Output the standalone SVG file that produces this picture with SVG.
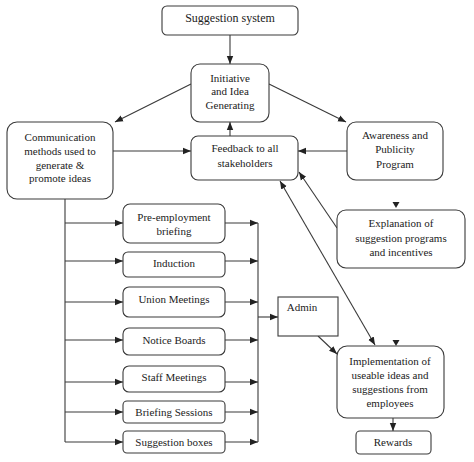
<svg xmlns="http://www.w3.org/2000/svg" width="474" height="462" viewBox="0 0 474 462">
<style>
.box{fill:#fff;stroke:#3a3a3a;stroke-width:1.1}
.ln{fill:none;stroke:#3a3a3a;stroke-width:1.1}
text{font-family:"Liberation Serif","Times New Roman",serif;font-size:11px;fill:#222;text-anchor:middle}
.t12{font-size:12px}
.ah{fill:#222}
</style>
<defs>
<marker id="arr" markerUnits="userSpaceOnUse" markerWidth="8" markerHeight="8" viewBox="0 0 8 8" refX="8" refY="4" orient="auto-start-reverse">
<path d="M0,0.8 L8,4 L0,7.2 z" fill="#222"/>
</marker>
</defs>
<rect width="474" height="462" fill="#fff"/>
<g id="connectors">
<line class="ln" x1="230" y1="35" x2="230" y2="64" marker-end="url(#arr)"/>
<line class="ln" x1="191" y1="84" x2="115" y2="122" marker-end="url(#arr)"/>
<line class="ln" x1="269" y1="84" x2="346" y2="122" marker-end="url(#arr)"/>
<line class="ln" x1="230" y1="136" x2="230" y2="122" marker-end="url(#arr)"/>
<line class="ln" x1="113" y1="151" x2="191" y2="151" marker-end="url(#arr)"/>
<line class="ln" x1="347" y1="151" x2="298" y2="151" marker-end="url(#arr)"/>
<line class="ln" x1="337" y1="228" x2="299" y2="172" marker-end="url(#arr)"/>
<line class="ln" x1="280" y1="181" x2="375" y2="345" marker-start="url(#arr)" marker-end="url(#arr)"/>
<polyline class="ln" points="65,199 65,442"/>
<line class="ln" x1="65" y1="223" x2="123" y2="223" marker-end="url(#arr)"/>
<line class="ln" x1="65" y1="261" x2="123" y2="261" marker-end="url(#arr)"/>
<line class="ln" x1="65" y1="302" x2="123" y2="302" marker-end="url(#arr)"/>
<line class="ln" x1="65" y1="340" x2="123" y2="340" marker-end="url(#arr)"/>
<line class="ln" x1="65" y1="382" x2="123" y2="382" marker-end="url(#arr)"/>
<line class="ln" x1="65" y1="412" x2="123" y2="412" marker-end="url(#arr)"/>
<line class="ln" x1="65" y1="442" x2="123" y2="442" marker-end="url(#arr)"/>
<line class="ln" x1="225" y1="223" x2="258" y2="223" marker-end="url(#arr)"/>
<line class="ln" x1="225" y1="261" x2="258" y2="261" marker-end="url(#arr)"/>
<line class="ln" x1="225" y1="302" x2="258" y2="302" marker-end="url(#arr)"/>
<line class="ln" x1="225" y1="340" x2="258" y2="340" marker-end="url(#arr)"/>
<line class="ln" x1="225" y1="382" x2="258" y2="382" marker-end="url(#arr)"/>
<line class="ln" x1="225" y1="412" x2="258" y2="412" marker-end="url(#arr)"/>
<line class="ln" x1="225" y1="442" x2="258" y2="442" marker-end="url(#arr)"/>
<polyline class="ln" points="258,223 258,442"/>
<line class="ln" x1="258" y1="317" x2="278" y2="317" marker-end="url(#arr)"/>
<line class="ln" x1="318" y1="336" x2="337" y2="354" marker-end="url(#arr)"/>
<line class="ln" x1="393" y1="418" x2="393" y2="431" marker-end="url(#arr)"/>
<polygon class="ah" points="392.5,202 399.5,202 396,208"/>
<polygon class="ah" points="392.5,340 399.5,340 396,346"/>
</g>
<g id="n-suggestion-system">
<rect class="box" x="162" y="6" width="136" height="29" rx="5"/>
<text class="t12" x="230" y="22">Suggestion system</text>
</g>
<g id="n-initiative">
<rect class="box" x="191" y="64" width="78" height="58" rx="9"/>
<text x="230" y="82">Initiative</text>
<text x="230" y="95">and Idea</text>
<text x="230" y="109">Generating</text>
</g>
<g id="n-communication">
<rect class="box" x="7" y="122" width="106" height="77" rx="10"/>
<text x="60" y="141">Communication</text>
<text x="60" y="154.5">methods used to</text>
<text x="60" y="168.5">generate &amp;</text>
<text x="60" y="182">promote ideas</text>
</g>
<g id="n-feedback">
<rect class="box" x="191" y="136" width="107" height="44" rx="7"/>
<text x="245" y="152">Feedback to all</text>
<text x="245" y="167">stakeholders</text>
</g>
<g id="n-awareness">
<rect class="box" x="347" y="122" width="96" height="58" rx="9"/>
<text x="395" y="139">Awareness and</text>
<text x="395" y="153">Publicity</text>
<text x="395" y="168">Program</text>
</g>
<g id="n-explanation">
<rect class="box" x="337" y="210" width="128" height="58" rx="9"/>
<text x="401" y="227">Explanation of</text>
<text x="401" y="242">suggestion programs</text>
<text x="401" y="256">and incentives</text>
</g>
<g id="n-pre-employment">
<rect class="box" x="123" y="204" width="102" height="39" rx="7"/>
<text x="174" y="221">Pre-employment</text>
<text x="174" y="235">briefing</text>
</g>
<g id="n-induction">
<rect class="box" x="123" y="252" width="102" height="25" rx="5"/>
<text x="174" y="267">Induction</text>
</g>
<g id="n-union">
<rect class="box" x="123" y="287" width="102" height="30" rx="6"/>
<text x="174" y="303">Union Meetings</text>
</g>
<g id="n-notice">
<rect class="box" x="123" y="328" width="102" height="27" rx="6"/>
<text x="174" y="344">Notice Boards</text>
</g>
<g id="n-staff">
<rect class="box" x="123" y="366" width="102" height="26" rx="6"/>
<text x="174" y="381">Staff Meetings</text>
</g>
<g id="n-briefing">
<rect class="box" x="123" y="401" width="102" height="22" rx="4"/>
<text x="174" y="416">Briefing Sessions</text>
</g>
<g id="n-suggestion-boxes">
<rect class="box" x="123" y="431" width="102" height="22" rx="4"/>
<text x="174" y="446">Suggestion boxes</text>
</g>
<g id="n-admin">
<rect class="box" x="278" y="297" width="60" height="39"/>
<text x="302" y="311">Admin</text>
</g>
<g id="n-implementation">
<rect class="box" x="337" y="346" width="107" height="72" rx="10"/>
<text x="390" y="365">Implementation of</text>
<text x="390" y="379">useable ideas and</text>
<text x="390" y="393">suggestions from</text>
<text x="390" y="407">employees</text>
</g>
<g id="n-rewards">
<rect class="box" x="356" y="431" width="75" height="23" rx="4"/>
<text x="393" y="446">Rewards</text>
</g>
</svg>
